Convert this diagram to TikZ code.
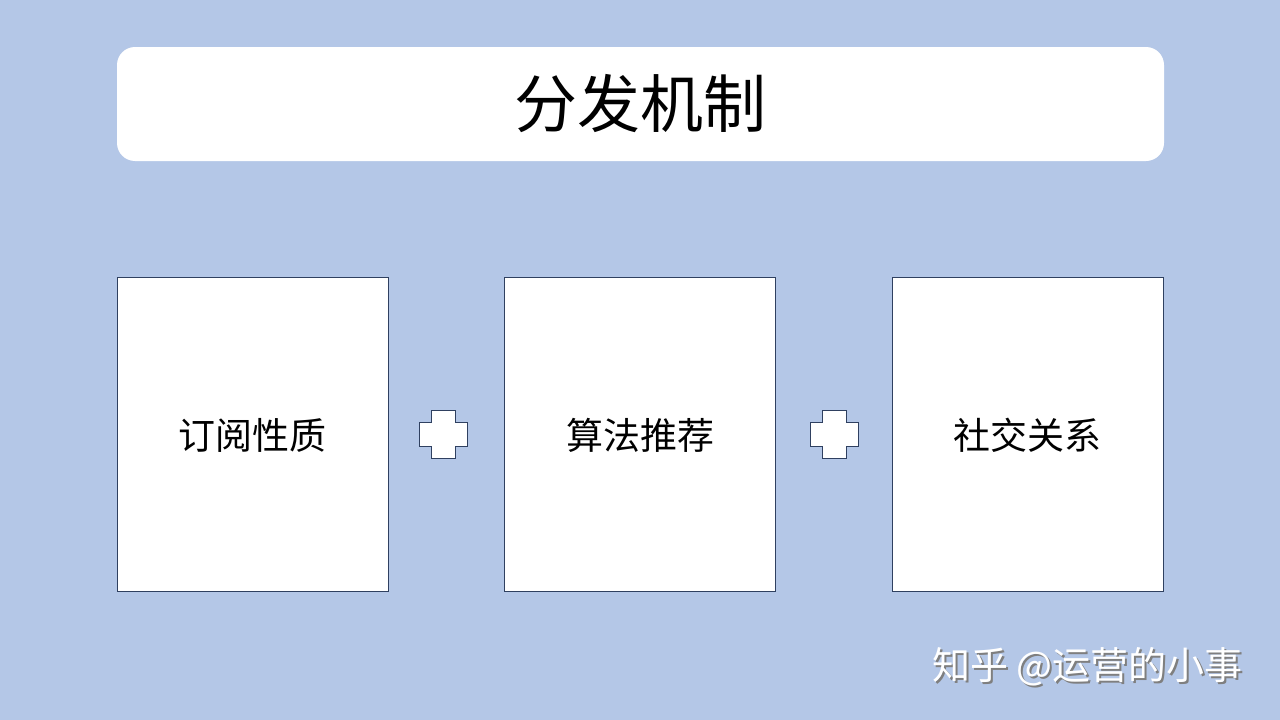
\documentclass[tikz,border=0pt]{standalone}
\usepackage{fontspec}
\newfontfamily\cjk{Noto Sans CJK SC}
\definecolor{bg}{HTML}{B4C7E7}
\definecolor{edge}{HTML}{2F4060}
\definecolor{shadowgray}{HTML}{7F7F7F}
\tikzset{
  card/.style={draw=edge, line width=0.8pt, fill=white, minimum width=271pt, minimum height=314pt, inner sep=0pt},
  cardtext/.style={font=\cjk\fontsize{37}{42}\selectfont},
  plusmark/.style={draw=edge, line width=0.8pt, fill=white}
}
\begin{document}
\begin{tikzpicture}[x=1pt,y=-1pt]
\fill[bg] (0,0) rectangle (1280,720);
\useasboundingbox (0,0) rectangle (1280,720);
\node[fill=white, rounded corners=18pt, minimum width=1047pt, minimum height=114pt, inner sep=0pt] (title) at (640.5,104) {};
\node[font=\cjk\fontsize{63}{70}\selectfont] (titletext) at (640,104) {分发机制};
\node[card] (b1) at (252.5,434) {};
\node[card] (b2) at (640,434) {};
\node[card] (b3) at (1027.5,434) {};
\node[cardtext] (t1) at (252.5,435) {订阅性质};
\node[cardtext] (t2) at (640,435) {算法推荐};
\node[cardtext] (t3) at (1027.5,435) {社交关系};
\foreach \cx/\nm in {443.5/p1, 834/p2}{
  \draw[plusmark] (\cx-12,410) -- (\cx+12,410) -- (\cx+12,422) -- (\cx+24,422) -- (\cx+24,446) -- (\cx+12,446) -- (\cx+12,458) -- (\cx-12,458) -- (\cx-12,446) -- (\cx-24,446) -- (\cx-24,422) -- (\cx-12,422) -- cycle;
  \coordinate (\nm) at (\cx,434);
}
\node[font=\cjk\fontsize{38}{43}\selectfont, text=shadowgray, anchor=east] (wms) at (1248,669) {知乎 @运营的小事};
\node[font=\cjk\fontsize{38}{43}\selectfont, text=white, anchor=east] (wm) at (1246,667) {知乎 @运营的小事};
\end{tikzpicture}
\end{document}
